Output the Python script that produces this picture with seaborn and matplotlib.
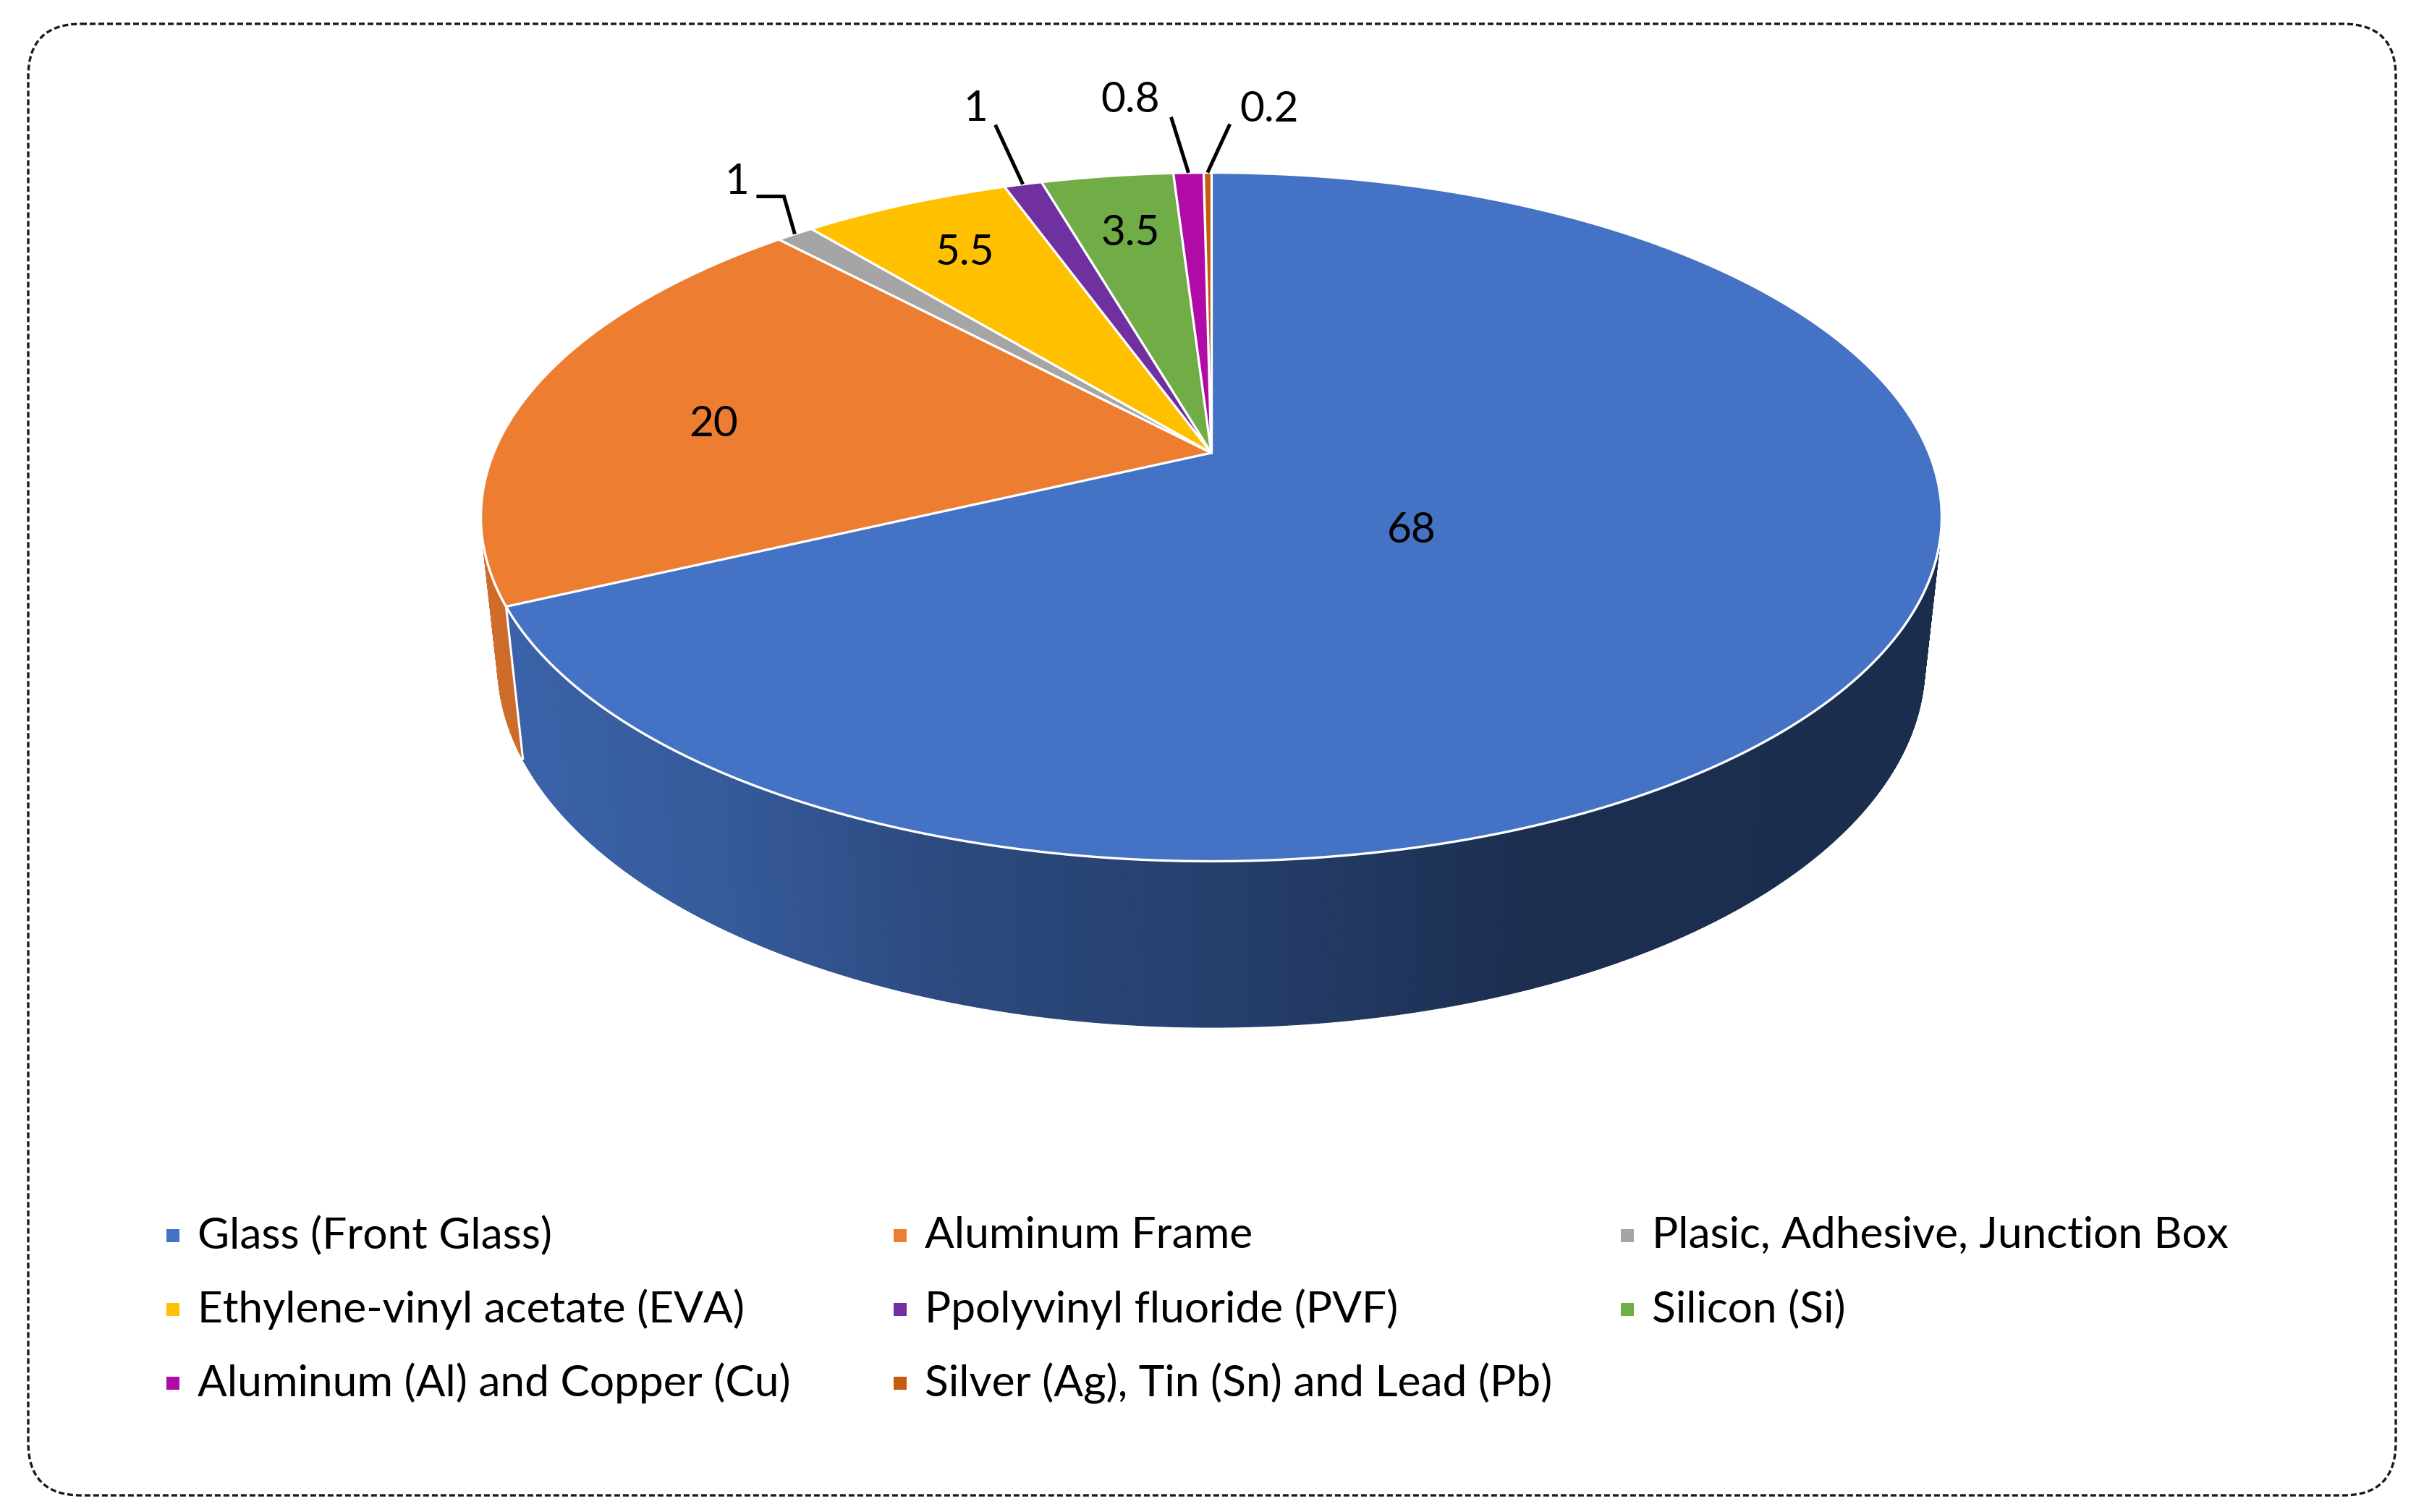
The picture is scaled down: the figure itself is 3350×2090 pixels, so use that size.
import numpy as np
import matplotlib
matplotlib.use("Agg")
import matplotlib.pyplot as plt
from matplotlib.patches import Polygon, FancyBboxPatch
from matplotlib.collections import PolyCollection
import seaborn as sns

# data: composition of a PV module (%)
materials = ["Glass (Front Glass)", "Aluminum Frame", "Plasic, Adhesive, Junction Box",
             "Ethylene-vinyl acetate (EVA)", "Ppolyvinyl fluoride (PVF)", "Silicon (Si)",
             "Aluminum (Al) and Copper (Cu)", "Silver (Ag), Tin (Sn) and Lead (Pb)"]
shares = [68, 20, 1, 5.5, 1, 3.5, 0.8, 0.2]
colors = ["#4472C4", "#ED7D31", "#A5A5A5", "#FFC000",
          "#7030A0", "#70AD47", "#B00BA6", "#C55A11"]

sns.set_style("white")
plt.rcParams['font.family'] = ['Lato', 'DejaVu Sans']
palette = sns.color_palette(colors)

fig = plt.figure(figsize=(33.5, 20.9), dpi=100)
ax = fig.add_axes([0, 0, 1, 1])
ax.set_xlim(0, 3350)
ax.set_ylim(2090, 0)
ax.axis('off')

# dashed rounded frame
ax.add_patch(FancyBboxPatch((39, 33), 3272, 2034, boxstyle="round,pad=0,rounding_size=73",
                            fill=False, ec="#1a1a1a", lw=2.4, linestyle=(0, (2.4, 1.2))))

# perspective camera for the 3d pie
cx, cy = 1674, 626
F, D = 4725, 4.764
tilt = np.radians(27.6)
c, s = np.cos(tilt), np.sin(tilt)
h = 0.233


def project(r, theta, z=0.0):
    X = r * np.cos(theta)
    Y = r * np.sin(theta)
    depth = D + Y * c - z * s
    return cx + F * X / depth, cy - F * (Y * s + z * c) / depth


total = sum(shares)
cum = np.concatenate([[0], np.cumsum(shares)])
edges = np.radians(90 - 360 * cum / total)


def slice_of(theta):
    t = ((np.pi / 2 - theta) % (2 * np.pi)) / (2 * np.pi) * total
    return min(np.searchsorted(cum, t, side='right') - 1, len(shares) - 1)


# side wall, drawn far to near
N = 1440
th = np.linspace(0, 2 * np.pi, N + 1)
shade_x = [650, 1000, 1300, 1670, 2100, 2700]
shade_f = [0.88, 0.79, 0.65, 0.56, 0.41, 0.39]
segs, fcs, order = [], [], []
for a0, a1 in zip(th[:-1], th[1:]):
    p = [project(1, a0), project(1, a1), project(1, a1, -h), project(1, a0, -h)]
    mid = (a0 + a1) / 2
    xm = np.mean([q[0] for q in p])
    f = np.interp(xm, shade_x, shade_f)
    col = np.array(palette[slice_of(mid)]) * f
    segs.append(p)
    fcs.append(col)
    order.append(np.sin(mid))
idx = np.argsort(order)[::-1]
ax.add_collection(PolyCollection([segs[i] for i in idx], facecolors=[fcs[i] for i in idx],
                                 edgecolors=[fcs[i] for i in idx], linewidths=0.8))

# seams on the visible wall
for a in edges[:-1]:
    if np.sin(a) < 0:
        xt, yt = project(1, a)
        xb, yb = project(1, a, -h)
        ax.plot([xt, xb], [yt, yb], color="white", lw=2.2, solid_capstyle='butt')

# top face wedges
for i, col in enumerate(palette):
    n = max(4, int(abs(np.degrees(edges[i] - edges[i + 1])) * 4))
    arc = np.linspace(edges[i], edges[i + 1], n)
    pts = [(cx, cy)] + [project(1, a) for a in arc]
    ax.add_patch(Polygon(pts, closed=True, fc=col, ec="none"))

for a in edges[:-1]:
    xr, yr = project(1, a)
    ax.plot([cx, xr], [cy, yr], color="white", lw=2.4, solid_capstyle='round')
rim = [project(1, a) for a in np.linspace(0, 2 * np.pi, 721)]
ax.plot([q[0] for q in rim], [q[1] for q in rim], color="white", lw=2.4)

# data labels
inside_r = {0: 0.32, 1: 0.72, 3: 0.78, 5: 0.78}
nudge = {0: (0, 26), 1: (-4, 21), 5: (5, 5)}
callouts = {
    2: ((-80, -72), [(0, 0), (-15, -52), (-53, -52)]),
    4: ((-65, -104), [(0, 0), (-38, -82)]),
    6: ((-80, -100), [(0, 0), (-24, -77)]),
    7: ((85, -87), [(0, 0), (31, -67)]),
}
for i, v in enumerate(shares):
    mid = (edges[i] + edges[i + 1]) / 2
    txt = f"{v:g}"
    if i in inside_r:
        x, y = project(inside_r[i], mid)
        dx, dy = nudge.get(i, (0, 0))
        ax.text(x + dx, y + dy, txt, ha='center', va='center', fontsize=42, color='black')
    else:
        x, y = project(1, mid)
        (dx, dy), path = callouts[i]
        ax.plot([x + p[0] for p in path], [y + p[1] for p in path], color='black',
                lw=3.6, solid_joinstyle='miter', solid_capstyle='butt')
        ax.text(x + dx, y + dy, txt, ha='center', va='center', fontsize=42, color='black')

# legend grid, three per row
for i, (name, col) in enumerate(zip(materials, palette)):
    row, cl = divmod(i, 3)
    mx = 239 + cl * 1005
    my = 1708 + row * 102
    ax.scatter([mx], [my], marker='s', s=170, color=col, linewidths=0)
    ax.text(mx + 34, my, name, ha='left', va='center', fontsize=43.5, color='black')

fig.savefig("out.png", dpi=100)
